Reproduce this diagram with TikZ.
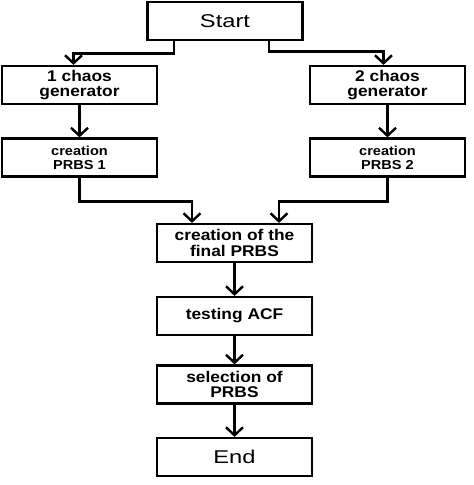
\documentclass[tikz,border=0pt]{standalone}
\usepackage{fontspec}
\setmainfont{Liberation Sans}
\newfontfamily\stepfont[FakeStretch=1.12]{Liberation Sans Bold}
\newfontfamily\termfont[FakeStretch=1.28]{Liberation Sans}
\usetikzlibrary{arrows.meta}

\begin{document}
\begin{tikzpicture}[x=1pt,y=-1pt,
	every node/.style={draw,line width=2.2pt,inner sep=0pt,align=center,minimum width=155pt,minimum height=38pt},
	term/.style={font=\termfont\fontsize{18.5}{20}\selectfont},
	big/.style={font=\stepfont\fontsize{15.5}{15.5}\selectfont},
	small/.style={font=\stepfont\fontsize{13}{14}\selectfont},
	arr/.style={line width=2.8pt,-{Straight Barb[length=8pt,width=17pt,line width=2.4pt]}}]
	\useasboundingbox (0,0) rectangle (474,485);

	\node[term] (start) at (225,21) {Start};
	\node[big] (gen1) at (79.5,85) {1 chaos\\generator};
	\node[big] (gen2) at (387.5,85) {2 chaos\\generator};
	\node[small] (prbs1) at (79.5,157.5) {creation\\PRBS 1};
	\node[small] (prbs2) at (387.5,157.5) {creation\\PRBS 2};
	\node[big] (final) at (234.5,243) {creation of the\\final PRBS};
	\node[big] (acf) at (234.5,316) {testing ACF};
	\node[big] (sel) at (234.5,384.5) {selection of\\PRBS};
	\node[term] (stop) at (234.5,457) {End};

	\draw[arr] ([xshift=-51pt]start.south) -- ++(0,12) -| ([xshift=-6pt]gen1.north);
	\draw[arr] ([xshift=44pt]start.south) -- ++(0,10) -| ([xshift=-4pt]gen2.north);
	\draw[arr] (prbs1.south) -- ++(0,24) -| ([xshift=-42.5pt]final.north);
	\draw[arr] (prbs2.south) -- ++(0,24) -| ([xshift=44.5pt]final.north);

	\foreach \from/\to in {gen1/prbs1,gen2/prbs2,final/acf,acf/sel,sel/stop}
		\draw[arr] (\from) -- (\to);

\end{tikzpicture}
\end{document}
